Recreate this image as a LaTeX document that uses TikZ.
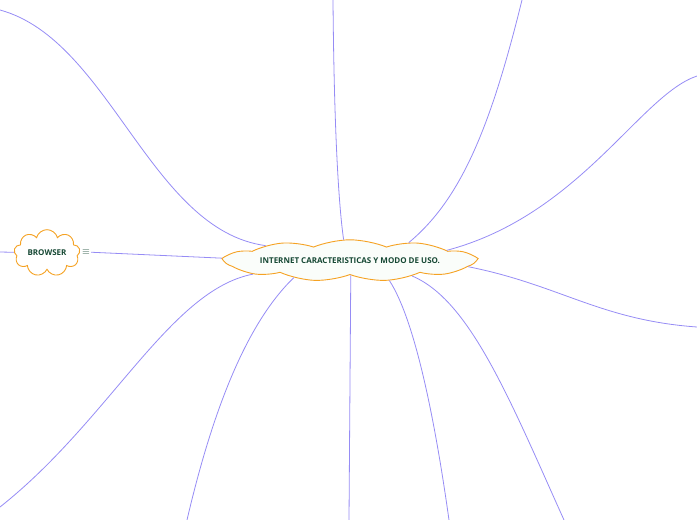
\documentclass[tikz,border=0pt]{standalone}
\usepackage{fontspec}
\setsansfont{Open Sans}
\usepackage{tikz}
\usetikzlibrary{shapes.symbols}

\definecolor{rama}{RGB}{150,140,245}
\definecolor{nube}{RGB}{245,162,35}
\definecolor{texto}{RGB}{22,72,52}
\definecolor{fondo}{RGB}{250,253,250}

\begin{document}
\begin{tikzpicture}[x=1pt,y=-1pt,
  branch/.style={rama,line width=0.8pt},
  idea/.style={cloud,draw=nube,line width=0.9pt,text=texto,inner sep=0pt,
    font=\sffamily\bfseries\fontsize{8}{9}\selectfont}]
\useasboundingbox (0,0) rectangle (697,520);

\node [idea,cloud puffs=11,cloud puff arc=45,aspect=9,minimum width=250,minimum height=10,fill=fondo] (centro) at (350,260.5) {INTERNET CARACTERISTICAS Y MODO DE USO.};
\node [idea,cloud puffs=9,aspect=1.6,minimum width=66,minimum height=41,fill=white] (browser) at (47,253) {BROWSER};
\node [text=texto,inner sep=1pt] (menu) at (86,252) {$\equiv$};

\coordinate (t0) at (0,252);
\coordinate (t1) at (0,10);
\coordinate (t2) at (333,0);
\coordinate (t3) at (522,0);
\coordinate (t4) at (697,76);
\coordinate (t5) at (697,327);
\coordinate (t7) at (0,507);
\coordinate (t8) at (187,520);
\coordinate (t9) at (349,520);
\coordinate (t10) at (449,520);
\coordinate (t11) at (564,520);

\draw [branch] (t0) -- (browser);
\draw [branch] (menu) -- (centro.179);
\draw [branch] (t1) .. controls (110,40) and (150,230) .. (centro.170);
\draw [branch] (t2) .. controls (334,120) and (338,200) .. (centro.107);
\draw [branch] (t3) .. controls (490,130) and (460,200) .. (centro.17);
\draw [branch] (t4) .. controls (640,95) and (580,215) .. (centro.6);
\draw [branch] (centro.357) .. controls (560,285) and (600,320) .. (t5);
\draw [branch] (centro.188) .. controls (170,290) and (110,420) .. (t7);
\draw [branch] (centro.197) .. controls (250,320) and (215,400) .. (t8);
\draw [branch] (centro.273) -- (t9);
\draw [branch] (centro.333) .. controls (415,320) and (435,420) .. (t10);
\draw [branch] (centro.346) .. controls (470,300) and (510,400) .. (t11);

\end{tikzpicture}
\end{document}
